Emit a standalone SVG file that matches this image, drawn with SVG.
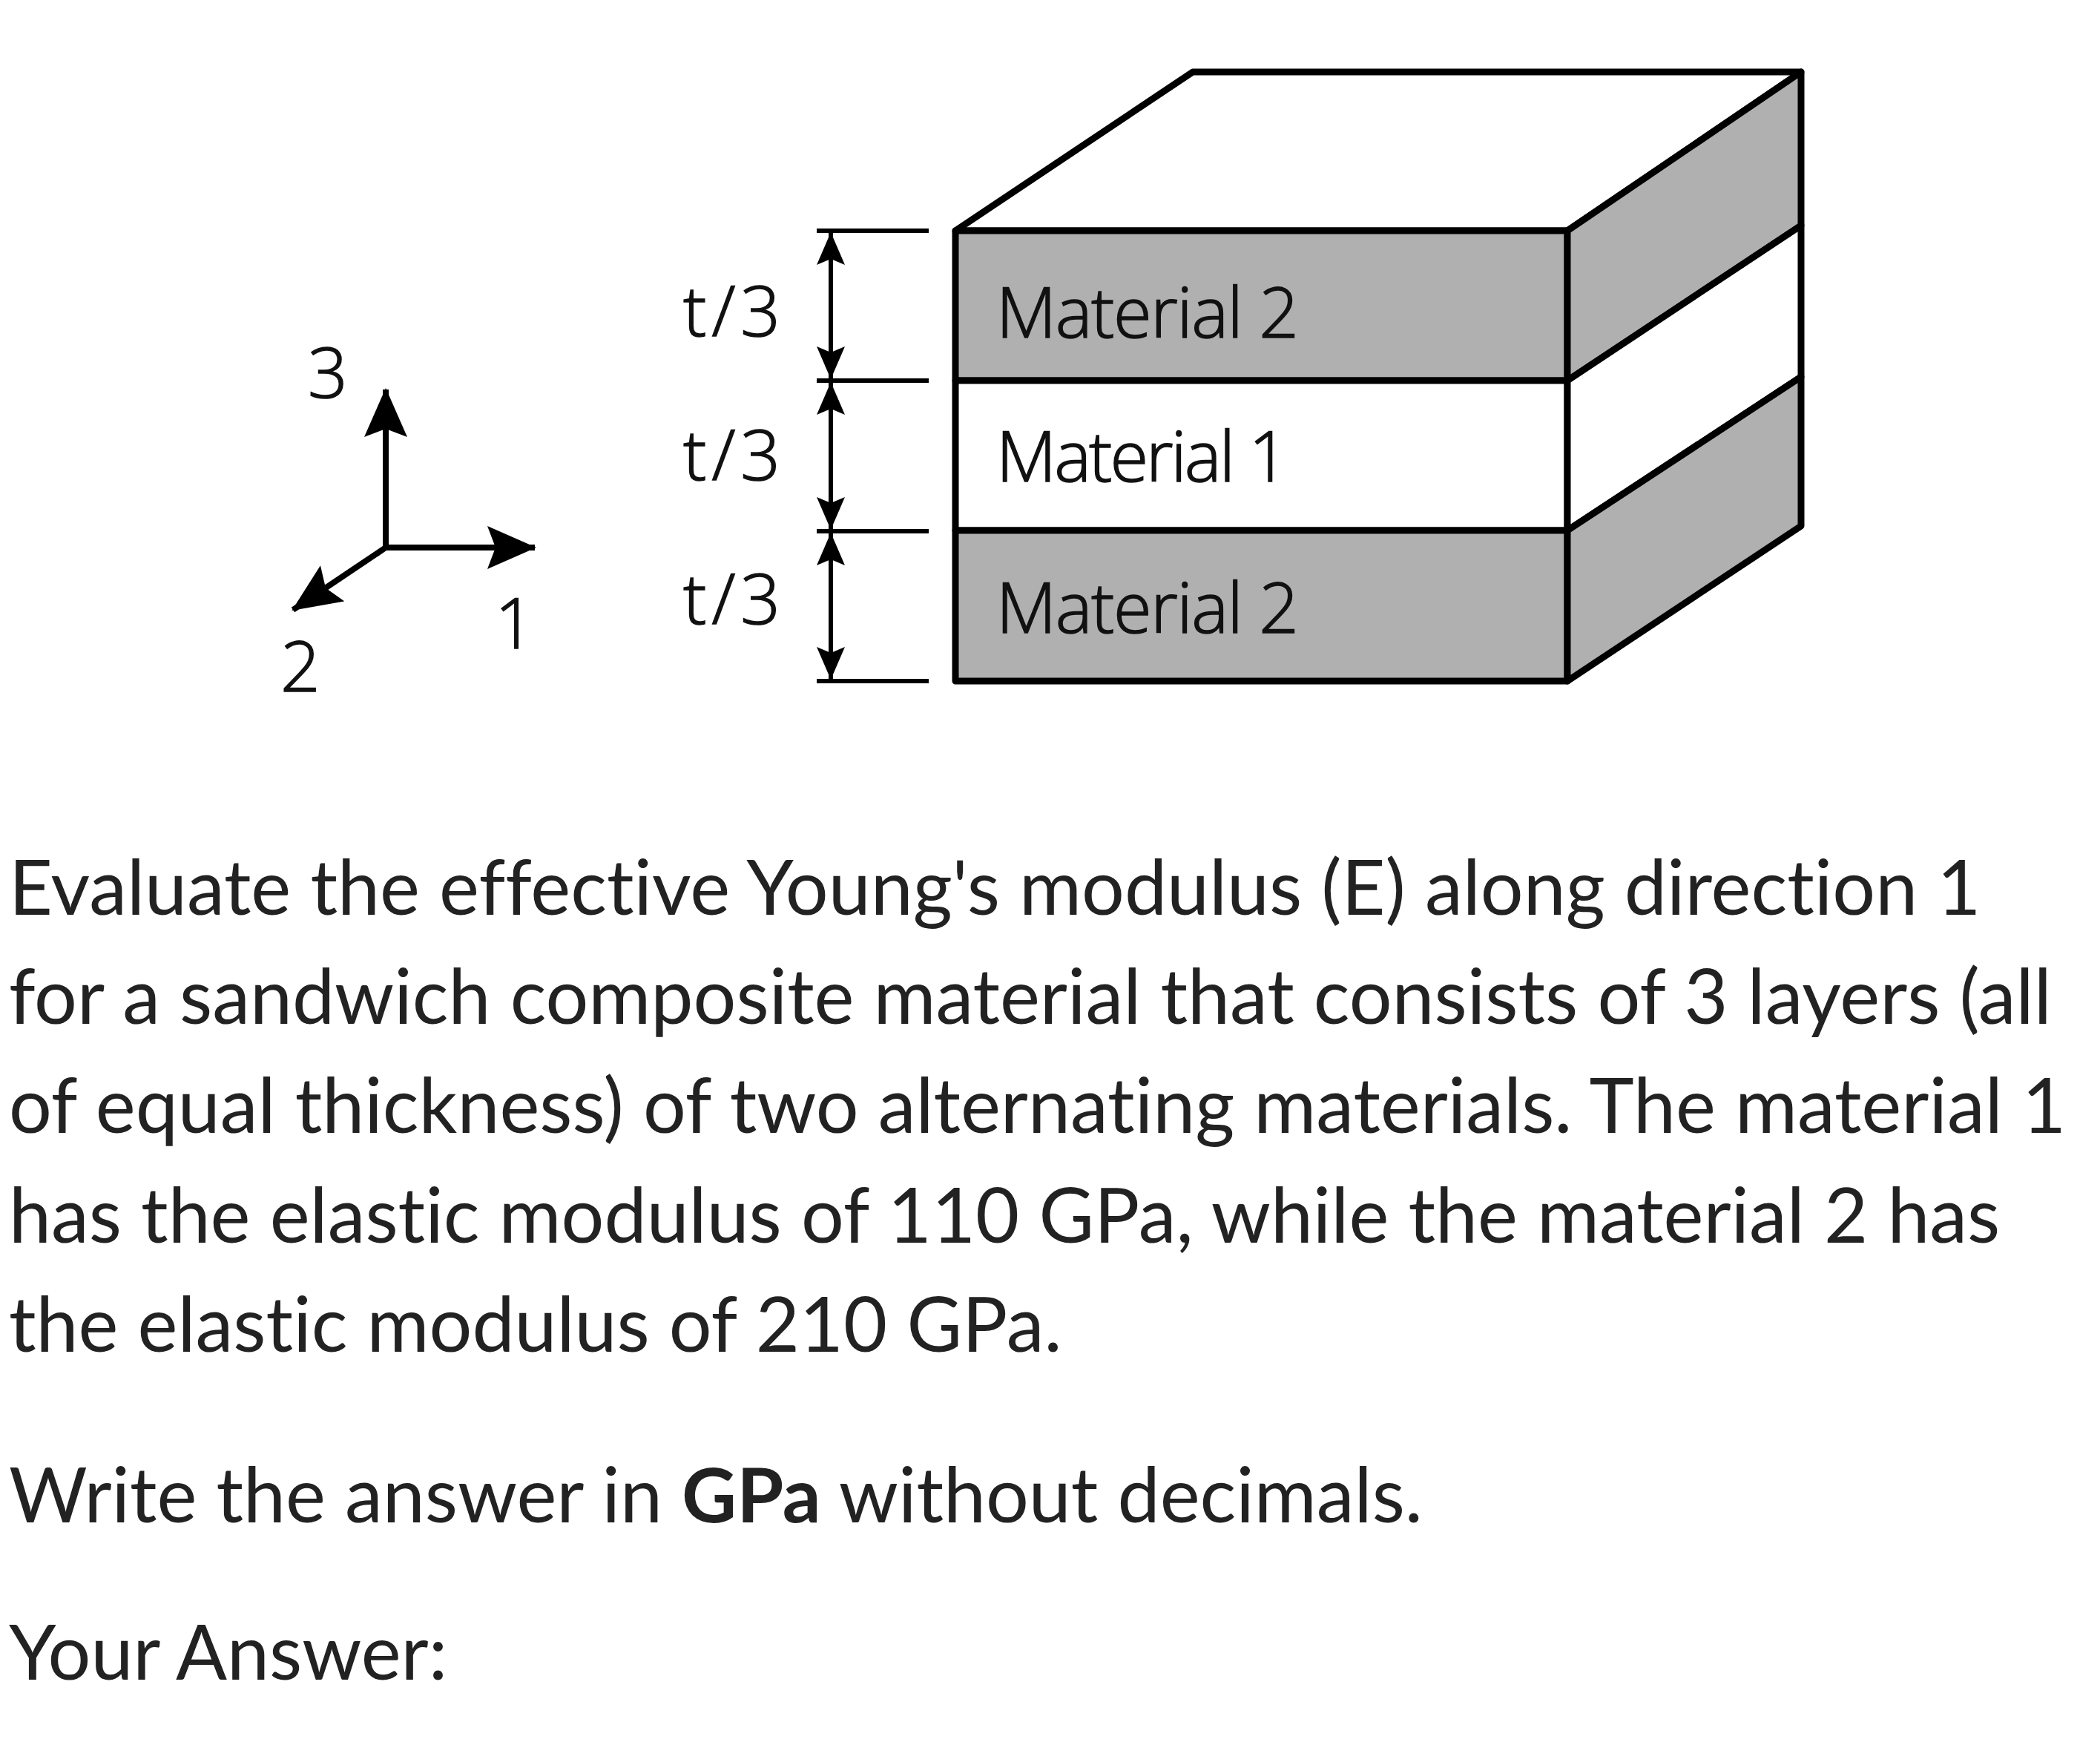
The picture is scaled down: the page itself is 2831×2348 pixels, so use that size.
<svg xmlns="http://www.w3.org/2000/svg" width="2831" height="2348" viewBox="0 0 2831 2348">
<style>
.ln{fill:none;stroke:#000;stroke-width:9;stroke-linejoin:round;stroke-linecap:round}
.g{fill:#b0b0b0}.w{fill:#fff}
.dim{stroke:#000;stroke-width:6;fill:none}
.ax{stroke:#000;stroke-width:8;fill:none}
.lb{font-family:"Open Sans","Liberation Sans",sans-serif;font-weight:300;font-size:94px;fill:#111;stroke:#111;stroke-width:1.5}
.bd{font-family:Lato,"Liberation Sans",sans-serif;font-size:102.1px;fill:#222;font-variant-ligatures:none}
</style>
<defs>
<marker id="head" markerUnits="userSpaceOnUse" markerWidth="44" markerHeight="40" refX="44" refY="20" orient="auto-start-reverse"><path d="M0 1L44 20L0 39L8 20Z" fill="#000"/></marker>
<marker id="axis" markerUnits="userSpaceOnUse" markerWidth="66" markerHeight="60" refX="64" refY="29" orient="auto"><path d="M0 0L66 29L0 58L11 29Z" fill="#000"/></marker>
</defs>
<rect width="2831" height="2348" fill="#fff"/>
<g id="cube-top"><path class="ln w" d="M1288 311L1608 97H2428L2113 311Z"/></g>
<g id="layer-top"><rect class="ln g" x="1288" y="311" width="825" height="202"/><path class="ln g" d="M2113 311L2428 97V304L2113 513Z"/><text class="lb" x="1343" y="455" textLength="408">Material 2</text></g>
<g id="layer-middle"><rect class="ln w" x="1288" y="513" width="825" height="202"/><path class="ln w" d="M2113 513L2428 304V508L2113 715Z"/><text class="lb" x="1343" y="649" textLength="394">Material 1</text></g>
<g id="layer-bottom"><rect class="ln g" x="1288" y="715" width="825" height="203"/><path class="ln g" d="M2113 715L2428 508V709L2113 918Z"/><text class="lb" x="1343" y="853" textLength="408">Material 2</text></g>
<g id="axes-labels"><text class="lb" x="415" y="536">3</text><text class="lb" x="667" y="874">1</text><text class="lb" x="378" y="932">2</text></g>
<g id="dim-labels"><text class="lb" x="921" y="453" textLength="131">t/3</text><text class="lb" x="921" y="647" textLength="131">t/3</text><text class="lb" x="921" y="841" textLength="131">t/3</text></g>
<g id="connectors">
<path class="dim" d="M1101 311H1252M1101 513H1252M1101 716H1252M1101 918H1252"/>
<line class="dim" x1="1120" y1="313" x2="1120" y2="511" marker-start="url(#head)" marker-end="url(#head)"/>
<line class="dim" x1="1120" y1="515" x2="1120" y2="714" marker-start="url(#head)" marker-end="url(#head)"/>
<line class="dim" x1="1120" y1="718" x2="1120" y2="916" marker-start="url(#head)" marker-end="url(#head)"/>
<line class="ax" x1="520" y1="740" x2="520" y2="525" marker-end="url(#axis)"/>
<line class="ax" x1="516" y1="738" x2="721" y2="738" marker-end="url(#axis)"/>
<line class="ax" x1="520" y1="738" x2="395" y2="822" marker-end="url(#axis)"/>
</g>
<g id="question">
<text class="bd" x="12" y="1233">Evaluate the effective Young's modulus (E) along direction 1</text>
<text class="bd" x="12" y="1380">for a sandwich composite material that consists of 3 layers (all</text>
<text class="bd" x="12" y="1527">of equal thickness) of two alternating materials. The material 1</text>
<text class="bd" x="12" y="1675">has the elastic modulus of 110 GPa, while the material 2 has</text>
<text class="bd" x="12" y="1822">the elastic modulus of 210 GPa.</text>
<text class="bd" x="12" y="2052">Write the answer in <tspan font-weight="700">GPa</tspan> without decimals.</text>
<text class="bd" x="12" y="2264">Your Answer:</text>
</g>
</svg>
